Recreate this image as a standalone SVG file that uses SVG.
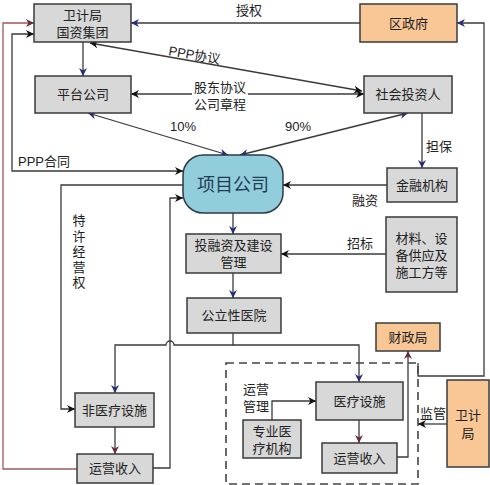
<svg xmlns="http://www.w3.org/2000/svg" width="490" height="485" viewBox="0 0 490 485">
<style>
.box{fill:#d8d8d8;stroke:#3a3a3a;stroke-width:1.5}
.org{fill:#f9c796;stroke:#3a3a3a;stroke-width:1.5}
.proj{fill:#92cddc;stroke:#2b3a4a;stroke-width:1.5}
.t{font-family:"Liberation Sans","Noto Sans CJK SC",sans-serif;font-size:13px;fill:#222;text-anchor:middle}
.l{font-family:"Liberation Sans","Noto Sans CJK SC",sans-serif;font-size:13px;fill:#222}
.ln{fill:none;stroke:#3a3a3a;stroke-width:1.3}
.rd{fill:none;stroke:#9a5a5a;stroke-width:1.3}
</style>
<defs>
<marker id="an" viewBox="0 0 10 10" refX="10" refY="5" markerWidth="9" markerHeight="8" markerUnits="userSpaceOnUse" orient="auto-start-reverse"><path d="M0,0 L10,5 L0,10 L3,5 Z" fill="#2a2a80"/></marker>
<marker id="ab" viewBox="0 0 10 10" refX="10" refY="5" markerWidth="9" markerHeight="8" markerUnits="userSpaceOnUse" orient="auto-start-reverse"><path d="M0,0 L10,5 L0,10 L3,5 Z" fill="#111"/></marker>
<marker id="ar" viewBox="0 0 10 10" refX="10" refY="5" markerWidth="9" markerHeight="8" markerUnits="userSpaceOnUse" orient="auto-start-reverse"><path d="M0,0 L10,5 L0,10 L3,5 Z" fill="#6b2a3a"/></marker>
</defs>
<rect width="490" height="485" fill="#fff"/>
<g id="connectors">
<path class="ln" d="M83,42 V76" marker-end="url(#an)"/>
<path class="ln" d="M360,23 H131" marker-end="url(#an)"/>
<path class="ln" d="M90,43 L362,91" marker-start="url(#ab)" marker-end="url(#ab)"/>
<path class="ln" d="M131,94 H364" marker-start="url(#ab)" marker-end="url(#ab)"/>
<rect x="192" y="80" width="56" height="31" fill="#fff"/>
<path class="ln" d="M88,113 L228,155" marker-start="url(#an)" marker-end="url(#an)"/>
<path class="ln" d="M408,113 L240,155" marker-start="url(#an)" marker-end="url(#an)"/>
<path class="ln" d="M422,113 V168" marker-end="url(#an)"/>
<path class="ln" d="M387,185 H283" marker-end="url(#ab)"/>
<path class="ln" d="M386,254 H281" marker-end="url(#ab)"/>
<path class="ln" d="M233,213 V234" marker-end="url(#an)"/>
<path class="ln" d="M233,273 V298" marker-end="url(#an)"/>
<path class="ln" d="M233,333 V345 H174 A4,4 0 0 0 166,345 H115 V393" marker-end="url(#an)"/>
<path class="ln" d="M233,345 H359 V382" marker-end="url(#an)"/>
<path class="ln" d="M183,185 H61 V409 H75" marker-end="url(#ab)"/>
<path class="ln" d="M115,427 V454" marker-end="url(#ar)"/>
<path class="ln" d="M153,468 H170 V198 H183" marker-end="url(#ab)"/>
<path class="rd" d="M77,469 H3 V23 H34" marker-end="url(#ar)"/>
<path class="ln" d="M34,34 H12 V171 H183" marker-start="url(#ab)" marker-end="url(#ab)"/>
<path class="ln" d="M272,420 V401 H316" marker-end="url(#ab)"/>
<path class="ln" d="M359,420 V443" marker-end="url(#ar)"/>
<path class="ln" d="M397,457 H408 V351" marker-end="url(#ar)"/>
<path class="ln" d="M447,424 H418" marker-end="url(#ab)"/>
<path class="ln" d="M418,363 V376 H484 V23 H457" marker-end="url(#an)"/>
<rect x="226" y="363" width="192" height="121" fill="none" stroke="#444" stroke-width="1.6" stroke-dasharray="8,5"/>
</g>
<g id="labels">
<text class="l" x="236" y="15">授权</text>
<text class="l" x="0" y="0" transform="translate(168,55) rotate(10)">PPP协议</text>
<text class="t" x="220" y="92">股东协议<tspan x="220" y="109">公司章程</tspan></text>
<text class="t" x="183" y="131">10%</text>
<text class="t" x="298" y="131">90%</text>
<text class="l" x="426" y="151">担保</text>
<text class="l" x="18" y="166">PPP合同</text>
<text class="t" x="365" y="205">融资</text>
<text class="t" x="360" y="248">招标</text>
<text class="l" x="78" y="214" writing-mode="vertical-rl" style="letter-spacing:2.5px">特许经营权</text>
<text class="l" x="243" y="394">运营<tspan x="243" y="411">管理</tspan></text>
<text class="l" x="420" y="418">监管</text>
</g>
<g id="n-weijiju"><rect class="box" x="34" y="4" width="97" height="38"/><text class="t" x="82.5" y="20">卫计局<tspan x="82.5" y="37">国资集团</tspan></text></g>
<g id="n-pingtai"><rect class="box" x="35" y="76" width="96" height="37"/><text class="t" x="83" y="99">平台公司</text></g>
<g id="n-quzhengfu"><rect class="org" x="360" y="4" width="97" height="38"/><text class="t" x="408.5" y="28">区政府</text></g>
<g id="n-shehui"><rect class="box" x="364" y="76" width="88" height="37"/><text class="t" x="408" y="99">社会投资人</text></g>
<g id="n-xiangmu"><rect class="proj" x="183" y="155" width="100" height="58" rx="20"/><text class="t" x="233" y="191" style="font-size:18px;fill:#1f3b55">项目公司</text></g>
<g id="n-jinrong"><rect class="box" x="387" y="168" width="70" height="34"/><text class="t" x="422" y="190">金融机构</text></g>
<g id="n-tourongzi"><rect class="box" x="186" y="234" width="95" height="39"/><text class="t" x="233.5" y="250">投融资及建设<tspan x="233.5" y="267">管理</tspan></text></g>
<g id="n-cailiao"><rect class="box" x="386" y="217" width="71" height="75"/><text class="t" x="421.5" y="243">材料、设<tspan x="421.5" y="260">备供应及</tspan><tspan x="421.5" y="277">施工方等</tspan></text></g>
<g id="n-gongli"><rect class="box" x="187" y="298" width="94" height="35"/><text class="t" x="234" y="320">公立性医院</text></g>
<g id="n-feiyiliao"><rect class="box" x="75" y="393" width="79" height="34"/><text class="t" x="114.5" y="415">非医疗设施</text></g>
<g id="n-yunying1"><rect class="box" x="77" y="454" width="76" height="29"/><text class="t" x="115" y="473">运营收入</text></g>
<g id="n-caizheng"><rect class="org" x="376" y="323" width="64" height="28"/><text class="t" x="408" y="342">财政局</text></g>
<g id="n-yiliao"><rect class="box" x="316" y="382" width="87" height="38"/><text class="t" x="359.5" y="406">医疗设施</text></g>
<g id="n-zhuanye"><rect class="box" x="243" y="420" width="58" height="38"/><text class="t" x="272" y="436">专业医<tspan x="272" y="453">疗机构</tspan></text></g>
<g id="n-yunying2"><rect class="box" x="322" y="443" width="75" height="30"/><text class="t" x="359.5" y="463">运营收入</text></g>
<g id="n-weijiju2"><rect class="org" x="447" y="380" width="42" height="87"/><text class="t" x="468" y="420">卫计<tspan x="468" y="438">局</tspan></text></g>
</svg>
